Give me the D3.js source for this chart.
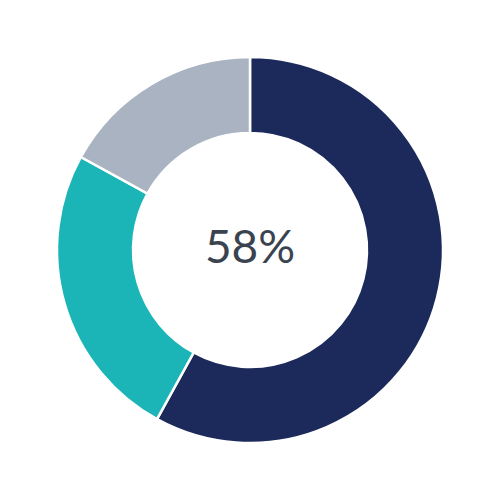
<!DOCTYPE html>
<html>
<head>
<meta charset="utf-8">
<script src="https://cdn.jsdelivr.net/npm/d3@7"></script>
<style>
  html, body { margin: 0; padding: 0; background: #fff; }
</style>
</head>
<body>
<svg id="chart" width="500" height="500"></svg>
<script>
// data
var categories = ["A", "B", "C"];
var values = [58, 25, 17];
var colors = ["#1b2a5a", "#1bb5b8", "#a9b3c1"];
var centerLabel = "58%";

var svg = d3.select("#chart"),
  width = 500,
  height = 500,
  outerRadius = 193,
  innerRadius = 117;

var g = svg.append("g")
  .attr("transform", "translate(" + width / 2 + "," + height / 2 + ")");

var color = d3.scaleOrdinal().domain(categories).range(colors);

var pie = d3.pie().sort(null).value(function(d) { return d.value; });
var arc = d3.arc().innerRadius(innerRadius).outerRadius(outerRadius);

var data = categories.map(function(c, i) { return { cat: c, value: values[i] }; });

g.selectAll("path")
  .data(pie(data))
  .enter()
  .append("path")
  .attr("d", arc)
  .attr("fill", function(d) { return color(d.data.cat); })
  .attr("stroke", "#fff")
  .attr("stroke-width", 2.5);

g.append("text")
  .attr("text-anchor", "middle")
  .attr("y", 13)
  .attr("font-family", "Lato, sans-serif")
  .attr("font-size", 46)
  .attr("fill", "#3a4350")
  .text(centerLabel);
</script>
</body>
</html>
